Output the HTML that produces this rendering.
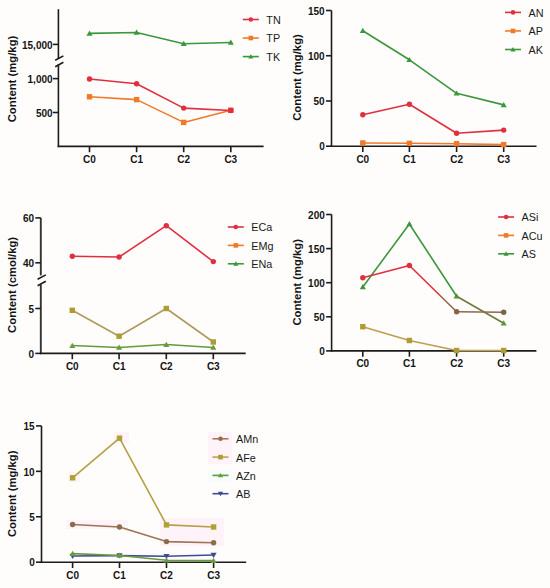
<!DOCTYPE html>
<html><head><meta charset="utf-8">
<style>
html,body{margin:0;padding:0;background:#fefdfb;}
body{width:550px;height:588px;overflow:hidden;}
svg{display:block;}
.tl{font-family:"Liberation Sans",sans-serif;font-weight:bold;font-size:10px;fill:#141414;}
.tt{font-family:"Liberation Sans",sans-serif;font-weight:bold;font-size:11.3px;fill:#141414;}
.lg{font-family:"Liberation Sans",sans-serif;font-size:10.8px;fill:#1a1a1a;}
</style></head><body>
<svg width="550" height="588" viewBox="0 0 550 588">
<defs><linearGradient id="g4" gradientUnits="userSpaceOnUse" x1="0" y1="294" x2="0" y2="298"><stop offset="0" stop-color="#d8343f"/><stop offset="1" stop-color="#8a6a4c"/></linearGradient></defs>
<rect width="550" height="588" fill="#fefdfb"/>
<line x1="58.4" y1="9.2" x2="58.4" y2="58.3" stroke="#1c1c1c" stroke-width="1.6"/>
<line x1="58.4" y1="64.6" x2="58.4" y2="147.15" stroke="#1c1c1c" stroke-width="1.6"/>
<line x1="55.20" y1="60.30" x2="63.40" y2="55.90" stroke="#1c1c1c" stroke-width="1.6"/>
<line x1="55.20" y1="66.70" x2="63.40" y2="62.30" stroke="#1c1c1c" stroke-width="1.6"/>
<line x1="52.90" y1="44.40" x2="58.40" y2="44.40" stroke="#1c1c1c" stroke-width="1.6"/>
<text x="52.60" y="48.60" class="tl" text-anchor="end">15,000</text>
<line x1="52.90" y1="78.60" x2="58.40" y2="78.60" stroke="#1c1c1c" stroke-width="1.6"/>
<text x="52.60" y="82.80" class="tl" text-anchor="end">1,000</text>
<line x1="52.90" y1="112.50" x2="58.40" y2="112.50" stroke="#1c1c1c" stroke-width="1.6"/>
<text x="52.60" y="116.70" class="tl" text-anchor="end">500</text>
<line x1="57.65" y1="146.40" x2="263.60" y2="146.40" stroke="#1c1c1c" stroke-width="1.6"/>
<line x1="89.50" y1="146.40" x2="89.50" y2="152.20" stroke="#1c1c1c" stroke-width="1.6"/>
<text x="89.50" y="162.70" class="tl" text-anchor="middle">C0</text>
<line x1="136.60" y1="146.40" x2="136.60" y2="152.20" stroke="#1c1c1c" stroke-width="1.6"/>
<text x="136.60" y="162.70" class="tl" text-anchor="middle">C1</text>
<line x1="183.70" y1="146.40" x2="183.70" y2="152.20" stroke="#1c1c1c" stroke-width="1.6"/>
<text x="183.70" y="162.70" class="tl" text-anchor="middle">C2</text>
<line x1="230.80" y1="146.40" x2="230.80" y2="152.20" stroke="#1c1c1c" stroke-width="1.6"/>
<text x="230.80" y="162.70" class="tl" text-anchor="middle">C3</text>
<text transform="translate(16.20,79.00) rotate(-90)" class="tt" text-anchor="middle">Content (mg/kg)</text>
<polyline points="89.50,33.40 136.60,32.50 183.70,43.70 230.80,42.50" fill="none" stroke="#3a983c" stroke-width="1.6" stroke-linejoin="round"/>
<path d="M89.50 30.50 L92.55 35.72 L86.45 35.72Z" fill="#3a983c"/>
<path d="M136.60 29.60 L139.64 34.82 L133.56 34.82Z" fill="#3a983c"/>
<path d="M183.70 40.80 L186.74 46.02 L180.66 46.02Z" fill="#3a983c"/>
<path d="M230.80 39.60 L233.84 44.82 L227.76 44.82Z" fill="#3a983c"/>
<polyline points="89.50,96.80 136.60,99.60 183.70,122.40 230.80,110.30" fill="none" stroke="#f07a2c" stroke-width="1.6" stroke-linejoin="round"/>
<rect x="86.80" y="94.10" width="5.40" height="5.40" fill="#f07a2c"/>
<rect x="133.90" y="96.90" width="5.40" height="5.40" fill="#f07a2c"/>
<rect x="181.00" y="119.70" width="5.40" height="5.40" fill="#f07a2c"/>
<rect x="228.10" y="107.60" width="5.40" height="5.40" fill="#e04a3a"/>
<polyline points="89.50,79.00 136.60,83.80 183.70,108.10 230.80,110.50" fill="none" stroke="#e0303f" stroke-width="1.6" stroke-linejoin="round"/>
<circle cx="89.50" cy="79.00" r="2.70" fill="#e0303f"/>
<circle cx="136.60" cy="83.80" r="2.70" fill="#e0303f"/>
<circle cx="183.70" cy="108.10" r="2.70" fill="#e0303f"/>
<circle cx="230.80" cy="110.50" r="2.70" fill="#e0303f"/>
<line x1="242.80" y1="19.50" x2="258.80" y2="19.50" stroke="#e0303f" stroke-width="1.6"/>
<circle cx="250.80" cy="19.50" r="2.29" fill="#e0303f"/>
<text x="266.30" y="23.90" class="lg">TN</text>
<line x1="242.80" y1="38.05" x2="258.80" y2="38.05" stroke="#f07a2c" stroke-width="1.6"/>
<rect x="248.51" y="35.75" width="4.59" height="4.59" fill="#f07a2c"/>
<text x="266.30" y="42.45" class="lg">TP</text>
<line x1="242.80" y1="56.60" x2="258.80" y2="56.60" stroke="#3a983c" stroke-width="1.6"/>
<path d="M250.80 54.14 L253.39 58.57 L248.21 58.57Z" fill="#3a983c"/>
<text x="266.30" y="61.00" class="lg">TK</text>
<line x1="331.5" y1="10.5" x2="331.5" y2="146.95" stroke="#1c1c1c" stroke-width="1.6"/>
<line x1="326.00" y1="10.50" x2="331.50" y2="10.50" stroke="#1c1c1c" stroke-width="1.6"/>
<text x="324.70" y="14.70" class="tl" text-anchor="end">150</text>
<line x1="326.00" y1="55.73" x2="331.50" y2="55.73" stroke="#1c1c1c" stroke-width="1.6"/>
<text x="324.70" y="59.93" class="tl" text-anchor="end">100</text>
<line x1="326.00" y1="100.97" x2="331.50" y2="100.97" stroke="#1c1c1c" stroke-width="1.6"/>
<text x="324.70" y="105.17" class="tl" text-anchor="end">50</text>
<line x1="326.00" y1="146.20" x2="331.50" y2="146.20" stroke="#1c1c1c" stroke-width="1.6"/>
<text x="324.70" y="150.40" class="tl" text-anchor="end">0</text>
<line x1="330.75" y1="146.20" x2="536.50" y2="146.20" stroke="#1c1c1c" stroke-width="1.6"/>
<line x1="362.80" y1="146.20" x2="362.80" y2="152.00" stroke="#1c1c1c" stroke-width="1.6"/>
<text x="362.80" y="162.50" class="tl" text-anchor="middle">C0</text>
<line x1="409.40" y1="146.20" x2="409.40" y2="152.00" stroke="#1c1c1c" stroke-width="1.6"/>
<text x="409.40" y="162.50" class="tl" text-anchor="middle">C1</text>
<line x1="456.60" y1="146.20" x2="456.60" y2="152.00" stroke="#1c1c1c" stroke-width="1.6"/>
<text x="456.60" y="162.50" class="tl" text-anchor="middle">C2</text>
<line x1="503.70" y1="146.20" x2="503.70" y2="152.00" stroke="#1c1c1c" stroke-width="1.6"/>
<text x="503.70" y="162.50" class="tl" text-anchor="middle">C3</text>
<text transform="translate(301.20,77.50) rotate(-90)" class="tt" text-anchor="middle">Content (mg/kg)</text>
<polyline points="362.80,30.70 409.40,59.80 456.60,93.30 503.70,104.90" fill="none" stroke="#3a983c" stroke-width="1.6" stroke-linejoin="round"/>
<path d="M362.80 27.80 L365.85 33.02 L359.75 33.02Z" fill="#3a983c"/>
<path d="M409.40 56.90 L412.44 62.12 L406.35 62.12Z" fill="#3a983c"/>
<path d="M456.60 90.40 L459.65 95.62 L453.56 95.62Z" fill="#3a983c"/>
<path d="M503.70 102.00 L506.75 107.22 L500.65 107.22Z" fill="#3a983c"/>
<polyline points="362.80,114.70 409.40,104.30 456.60,133.30 503.70,130.10" fill="none" stroke="#e0303f" stroke-width="1.6" stroke-linejoin="round"/>
<circle cx="362.80" cy="114.70" r="2.70" fill="#e0303f"/>
<circle cx="409.40" cy="104.30" r="2.70" fill="#e0303f"/>
<circle cx="456.60" cy="133.30" r="2.70" fill="#e0303f"/>
<circle cx="503.70" cy="130.10" r="2.70" fill="#e0303f"/>
<polyline points="362.80,143.00 409.40,143.30 456.60,143.70 503.70,144.60" fill="none" stroke="#f07a2c" stroke-width="1.6" stroke-linejoin="round"/>
<rect x="360.10" y="140.30" width="5.40" height="5.40" fill="#f07a2c"/>
<rect x="406.70" y="140.60" width="5.40" height="5.40" fill="#f07a2c"/>
<rect x="453.90" y="141.00" width="5.40" height="5.40" fill="#f07a2c"/>
<rect x="501.00" y="141.90" width="5.40" height="5.40" fill="#f07a2c"/>
<line x1="505.00" y1="12.40" x2="521.00" y2="12.40" stroke="#e0303f" stroke-width="1.6"/>
<circle cx="513.00" cy="12.40" r="2.29" fill="#e0303f"/>
<text x="528.50" y="16.80" class="lg">AN</text>
<line x1="505.00" y1="30.95" x2="521.00" y2="30.95" stroke="#f07a2c" stroke-width="1.6"/>
<rect x="510.70" y="28.66" width="4.59" height="4.59" fill="#f07a2c"/>
<text x="528.50" y="35.35" class="lg">AP</text>
<line x1="505.00" y1="49.50" x2="521.00" y2="49.50" stroke="#3a983c" stroke-width="1.6"/>
<path d="M513.00 47.03 L515.59 51.47 L510.41 51.47Z" fill="#3a983c"/>
<text x="528.50" y="53.90" class="lg">AK</text>
<line x1="40.8" y1="217.9" x2="40.8" y2="275.4" stroke="#333" stroke-width="1.9"/>
<line x1="40.8" y1="284.4" x2="40.8" y2="354.15" stroke="#333" stroke-width="1.9"/>
<line x1="37.60" y1="279.30" x2="45.80" y2="274.90" stroke="#1c1c1c" stroke-width="1.6"/>
<line x1="37.60" y1="285.70" x2="45.80" y2="281.30" stroke="#1c1c1c" stroke-width="1.6"/>
<line x1="35.30" y1="217.90" x2="40.80" y2="217.90" stroke="#1c1c1c" stroke-width="1.6"/>
<text x="34.00" y="222.10" class="tl" text-anchor="end">60</text>
<line x1="35.30" y1="262.80" x2="40.80" y2="262.80" stroke="#1c1c1c" stroke-width="1.6"/>
<text x="34.00" y="267.00" class="tl" text-anchor="end">40</text>
<line x1="35.30" y1="308.50" x2="40.80" y2="308.50" stroke="#1c1c1c" stroke-width="1.6"/>
<text x="34.00" y="312.70" class="tl" text-anchor="end">5</text>
<line x1="35.30" y1="353.40" x2="40.80" y2="353.40" stroke="#1c1c1c" stroke-width="1.6"/>
<text x="34.00" y="357.60" class="tl" text-anchor="end">0</text>
<line x1="40.05" y1="353.40" x2="245.70" y2="353.40" stroke="#1c1c1c" stroke-width="1.6"/>
<line x1="72.30" y1="353.40" x2="72.30" y2="359.20" stroke="#1c1c1c" stroke-width="1.6"/>
<text x="72.30" y="369.70" class="tl" text-anchor="middle">C0</text>
<line x1="119.10" y1="353.40" x2="119.10" y2="359.20" stroke="#1c1c1c" stroke-width="1.6"/>
<text x="119.10" y="369.70" class="tl" text-anchor="middle">C1</text>
<line x1="166.30" y1="353.40" x2="166.30" y2="359.20" stroke="#1c1c1c" stroke-width="1.6"/>
<text x="166.30" y="369.70" class="tl" text-anchor="middle">C2</text>
<line x1="213.30" y1="353.40" x2="213.30" y2="359.20" stroke="#1c1c1c" stroke-width="1.6"/>
<text x="213.30" y="369.70" class="tl" text-anchor="middle">C3</text>
<text transform="translate(16.20,284.90) rotate(-90)" class="tt" text-anchor="middle">Content (cmol/kg)</text>
<polyline points="72.30,310.30 119.10,336.20 166.30,308.50 213.30,342.00" fill="none" stroke="#ae9a5c" stroke-width="1.6" stroke-linejoin="round"/>
<rect x="69.60" y="307.60" width="5.40" height="5.40" fill="#b09a32"/>
<rect x="116.40" y="333.50" width="5.40" height="5.40" fill="#b09a32"/>
<rect x="163.60" y="305.80" width="5.40" height="5.40" fill="#b09a32"/>
<rect x="210.60" y="339.30" width="5.40" height="5.40" fill="#b09a32"/>
<polyline points="72.30,345.60 119.10,347.50 166.30,344.60 213.30,347.50" fill="none" stroke="#689a3e" stroke-width="1.5" stroke-linejoin="round"/>
<path d="M72.30 342.70 L75.34 347.92 L69.25 347.92Z" fill="#689a3e"/>
<path d="M119.10 344.60 L122.14 349.82 L116.05 349.82Z" fill="#689a3e"/>
<path d="M166.30 341.70 L169.34 346.92 L163.26 346.92Z" fill="#689a3e"/>
<path d="M213.30 344.60 L216.34 349.82 L210.26 349.82Z" fill="#689a3e"/>
<polyline points="72.30,256.30 119.10,257.00 166.30,225.70 213.30,261.60" fill="none" stroke="#e0303f" stroke-width="1.6" stroke-linejoin="round"/>
<circle cx="72.30" cy="256.30" r="2.70" fill="#e0303f"/>
<circle cx="119.10" cy="257.00" r="2.70" fill="#e0303f"/>
<circle cx="166.30" cy="225.70" r="2.70" fill="#e0303f"/>
<circle cx="213.30" cy="261.60" r="2.70" fill="#e0303f"/>
<line x1="227.80" y1="227.00" x2="243.80" y2="227.00" stroke="#e0303f" stroke-width="1.6"/>
<circle cx="235.80" cy="227.00" r="2.29" fill="#e0303f"/>
<text x="251.30" y="231.40" class="lg">ECa</text>
<line x1="227.80" y1="245.40" x2="243.80" y2="245.40" stroke="#f07a2c" stroke-width="1.6"/>
<rect x="233.51" y="243.11" width="4.59" height="4.59" fill="#f07a2c"/>
<text x="251.30" y="249.80" class="lg">EMg</text>
<line x1="227.80" y1="263.80" x2="243.80" y2="263.80" stroke="#3a983c" stroke-width="1.6"/>
<path d="M235.80 261.34 L238.39 265.77 L233.21 265.77Z" fill="#3a983c"/>
<text x="251.30" y="268.20" class="lg">ENa</text>
<line x1="331.6" y1="214.5" x2="331.6" y2="351.65" stroke="#1c1c1c" stroke-width="1.6"/>
<line x1="326.10" y1="214.50" x2="331.60" y2="214.50" stroke="#1c1c1c" stroke-width="1.6"/>
<text x="324.80" y="218.70" class="tl" text-anchor="end">200</text>
<line x1="326.10" y1="248.60" x2="331.60" y2="248.60" stroke="#1c1c1c" stroke-width="1.6"/>
<text x="324.80" y="252.80" class="tl" text-anchor="end">150</text>
<line x1="326.10" y1="282.70" x2="331.60" y2="282.70" stroke="#1c1c1c" stroke-width="1.6"/>
<text x="324.80" y="286.90" class="tl" text-anchor="end">100</text>
<line x1="326.10" y1="316.80" x2="331.60" y2="316.80" stroke="#1c1c1c" stroke-width="1.6"/>
<text x="324.80" y="321.00" class="tl" text-anchor="end">50</text>
<line x1="326.10" y1="350.90" x2="331.60" y2="350.90" stroke="#1c1c1c" stroke-width="1.6"/>
<text x="324.80" y="355.10" class="tl" text-anchor="end">0</text>
<line x1="330.85" y1="350.90" x2="536.40" y2="350.90" stroke="#1c1c1c" stroke-width="1.6"/>
<line x1="362.80" y1="350.90" x2="362.80" y2="356.70" stroke="#1c1c1c" stroke-width="1.6"/>
<text x="362.80" y="367.20" class="tl" text-anchor="middle">C0</text>
<line x1="409.40" y1="350.90" x2="409.40" y2="356.70" stroke="#1c1c1c" stroke-width="1.6"/>
<text x="409.40" y="367.20" class="tl" text-anchor="middle">C1</text>
<line x1="456.60" y1="350.90" x2="456.60" y2="356.70" stroke="#1c1c1c" stroke-width="1.6"/>
<text x="456.60" y="367.20" class="tl" text-anchor="middle">C2</text>
<line x1="503.70" y1="350.90" x2="503.70" y2="356.70" stroke="#1c1c1c" stroke-width="1.6"/>
<text x="503.70" y="367.20" class="tl" text-anchor="middle">C3</text>
<text transform="translate(301.20,282.30) rotate(-90)" class="tt" text-anchor="middle">Content (mg/kg)</text>
<line x1="362.80" y1="287.00" x2="409.40" y2="224.00" stroke="#3a983c" stroke-width="1.6" stroke-linecap="round"/>
<line x1="409.40" y1="224.00" x2="456.60" y2="296.20" stroke="#3a983c" stroke-width="1.6" stroke-linecap="round"/>
<line x1="456.60" y1="296.20" x2="503.70" y2="323.20" stroke="#6c7a3c" stroke-width="1.6" stroke-linecap="round"/>
<path d="M362.80 284.10 L365.85 289.32 L359.75 289.32Z" fill="#3a983c"/>
<path d="M409.40 221.10 L412.44 226.32 L406.35 226.32Z" fill="#3a983c"/>
<path d="M456.60 293.30 L459.65 298.52 L453.56 298.52Z" fill="#5f8a3a"/>
<path d="M503.70 320.30 L506.75 325.52 L500.65 325.52Z" fill="#5a9a34"/>
<line x1="362.80" y1="277.80" x2="409.40" y2="265.50" stroke="#e0303f" stroke-width="1.6" stroke-linecap="round"/>
<line x1="409.40" y1="265.50" x2="456.60" y2="311.70" stroke="url(#g4)" stroke-width="1.6" stroke-linecap="round"/>
<line x1="456.60" y1="311.70" x2="503.70" y2="312.20" stroke="#8a6a4c" stroke-width="1.6" stroke-linecap="round"/>
<circle cx="362.80" cy="277.80" r="2.70" fill="#e0303f"/>
<circle cx="409.40" cy="265.50" r="2.70" fill="#e0303f"/>
<circle cx="456.60" cy="311.70" r="2.70" fill="#8a6444"/>
<circle cx="503.70" cy="312.20" r="2.70" fill="#7a6444"/>
<polyline points="362.80,326.70 409.40,340.50 456.60,350.50 503.70,350.50" fill="none" stroke="#bba050" stroke-width="1.6" stroke-linejoin="round"/>
<rect x="360.10" y="324.00" width="5.40" height="5.40" fill="#b09a34"/>
<rect x="406.70" y="337.80" width="5.40" height="5.40" fill="#b09a34"/>
<rect x="453.90" y="347.80" width="5.40" height="5.40" fill="#b09a34"/>
<rect x="501.00" y="347.80" width="5.40" height="5.40" fill="#b09a34"/>
<line x1="498.10" y1="217.00" x2="514.10" y2="217.00" stroke="#e0303f" stroke-width="1.6"/>
<circle cx="506.10" cy="217.00" r="2.29" fill="#e0303f"/>
<text x="521.60" y="221.40" class="lg">ASi</text>
<line x1="498.10" y1="235.40" x2="514.10" y2="235.40" stroke="#f07a2c" stroke-width="1.6"/>
<rect x="503.81" y="233.11" width="4.59" height="4.59" fill="#f07a2c"/>
<text x="521.60" y="239.80" class="lg">ACu</text>
<line x1="498.10" y1="253.80" x2="514.10" y2="253.80" stroke="#3a983c" stroke-width="1.6"/>
<path d="M506.10 251.34 L508.69 255.77 L503.51 255.77Z" fill="#3a983c"/>
<text x="521.60" y="258.20" class="lg">AS</text>
<rect x="66" y="520" width="62" height="9" fill="#fdf3f8"/>
<rect x="160" y="518" width="64" height="28" fill="#fdf3f8"/>
<rect x="114" y="432" width="15" height="11" fill="#fdf3f8"/>
<rect x="68" y="472" width="12" height="10" fill="#fdf3f8"/>
<rect x="208" y="432" width="24" height="32" fill="#fdf3f8"/>
<rect x="208" y="470" width="24" height="12" fill="#f5fcf9"/>
<line x1="41.5" y1="425.9" x2="41.5" y2="562.95" stroke="#1c1c1c" stroke-width="1.6"/>
<line x1="36.00" y1="425.90" x2="41.50" y2="425.90" stroke="#1c1c1c" stroke-width="1.6"/>
<text x="34.70" y="430.10" class="tl" text-anchor="end">15</text>
<line x1="36.00" y1="471.33" x2="41.50" y2="471.33" stroke="#1c1c1c" stroke-width="1.6"/>
<text x="34.70" y="475.53" class="tl" text-anchor="end">10</text>
<line x1="36.00" y1="516.77" x2="41.50" y2="516.77" stroke="#1c1c1c" stroke-width="1.6"/>
<text x="34.70" y="520.97" class="tl" text-anchor="end">5</text>
<line x1="36.00" y1="562.20" x2="41.50" y2="562.20" stroke="#1c1c1c" stroke-width="1.6"/>
<text x="34.70" y="566.40" class="tl" text-anchor="end">0</text>
<line x1="40.75" y1="562.20" x2="246.20" y2="562.20" stroke="#1c1c1c" stroke-width="1.6"/>
<line x1="72.60" y1="562.20" x2="72.60" y2="568.00" stroke="#1c1c1c" stroke-width="1.6"/>
<text x="72.60" y="578.50" class="tl" text-anchor="middle">C0</text>
<line x1="119.50" y1="562.20" x2="119.50" y2="568.00" stroke="#1c1c1c" stroke-width="1.6"/>
<text x="119.50" y="578.50" class="tl" text-anchor="middle">C1</text>
<line x1="166.50" y1="562.20" x2="166.50" y2="568.00" stroke="#1c1c1c" stroke-width="1.6"/>
<text x="166.50" y="578.50" class="tl" text-anchor="middle">C2</text>
<line x1="213.60" y1="562.20" x2="213.60" y2="568.00" stroke="#1c1c1c" stroke-width="1.6"/>
<text x="213.60" y="578.50" class="tl" text-anchor="middle">C3</text>
<text transform="translate(16.20,493.80) rotate(-90)" class="tt" text-anchor="middle">Content (mg/kg)</text>
<polyline points="72.60,477.80 119.50,438.20 166.50,524.90 213.60,527.00" fill="none" stroke="#b5a044" stroke-width="1.6" stroke-linejoin="round"/>
<rect x="69.90" y="475.10" width="5.40" height="5.40" fill="#b0a232"/>
<rect x="116.80" y="435.50" width="5.40" height="5.40" fill="#b0a232"/>
<rect x="163.80" y="522.20" width="5.40" height="5.40" fill="#b0a232"/>
<rect x="210.90" y="524.30" width="5.40" height="5.40" fill="#b0a232"/>
<polyline points="72.60,524.50 119.50,527.00 166.50,541.60 213.60,542.80" fill="none" stroke="#9e7456" stroke-width="1.6" stroke-linejoin="round"/>
<circle cx="72.60" cy="524.50" r="2.70" fill="#8e6c46"/>
<circle cx="119.50" cy="527.00" r="2.70" fill="#8e6c46"/>
<circle cx="166.50" cy="541.60" r="2.70" fill="#8e6c46"/>
<circle cx="213.60" cy="542.80" r="2.70" fill="#8e6c46"/>
<polyline points="72.60,556.00 119.50,555.60 166.50,556.20 213.60,555.00" fill="none" stroke="#3e4c98" stroke-width="1.6" stroke-linejoin="round"/>
<path d="M72.60 558.90 L75.64 553.68 L69.55 553.68Z" fill="#3e4c98"/>
<path d="M119.50 558.50 L122.55 553.28 L116.45 553.28Z" fill="#3e4c98"/>
<path d="M166.50 559.10 L169.54 553.88 L163.46 553.88Z" fill="#3e4c98"/>
<path d="M213.60 557.90 L216.64 552.68 L210.56 552.68Z" fill="#3e4c98"/>
<polyline points="72.60,553.60 119.50,555.50 166.50,560.30 213.60,560.60" fill="none" stroke="#689a3e" stroke-width="1.6" stroke-linejoin="round"/>
<path d="M72.60 550.70 L75.64 555.92 L69.55 555.92Z" fill="#689a3e"/>
<path d="M119.50 552.60 L122.55 557.82 L116.45 557.82Z" fill="#689a3e"/>
<path d="M166.50 557.40 L169.54 562.62 L163.46 562.62Z" fill="#689a3e"/>
<path d="M213.60 557.70 L216.64 562.92 L210.56 562.92Z" fill="#689a3e"/>
<line x1="212.50" y1="438.80" x2="228.50" y2="438.80" stroke="#a87a58" stroke-width="1.6"/>
<circle cx="220.50" cy="438.80" r="2.29" fill="#9a6a44"/>
<text x="236.00" y="443.20" class="lg">AMn</text>
<line x1="212.50" y1="457.10" x2="228.50" y2="457.10" stroke="#c0a050" stroke-width="1.6"/>
<rect x="218.21" y="454.81" width="4.59" height="4.59" fill="#b09c34"/>
<text x="236.00" y="461.50" class="lg">AFe</text>
<line x1="212.50" y1="475.40" x2="228.50" y2="475.40" stroke="#689a3e" stroke-width="1.6"/>
<path d="M220.50 472.94 L223.09 477.37 L217.91 477.37Z" fill="#689a3e"/>
<text x="236.00" y="479.80" class="lg">AZn</text>
<line x1="212.50" y1="493.70" x2="228.50" y2="493.70" stroke="#3e4c98" stroke-width="1.6"/>
<path d="M220.50 496.17 L223.09 491.73 L217.91 491.73Z" fill="#3e4c98"/>
<text x="236.00" y="498.10" class="lg">AB</text>
</svg>
</body></html>
